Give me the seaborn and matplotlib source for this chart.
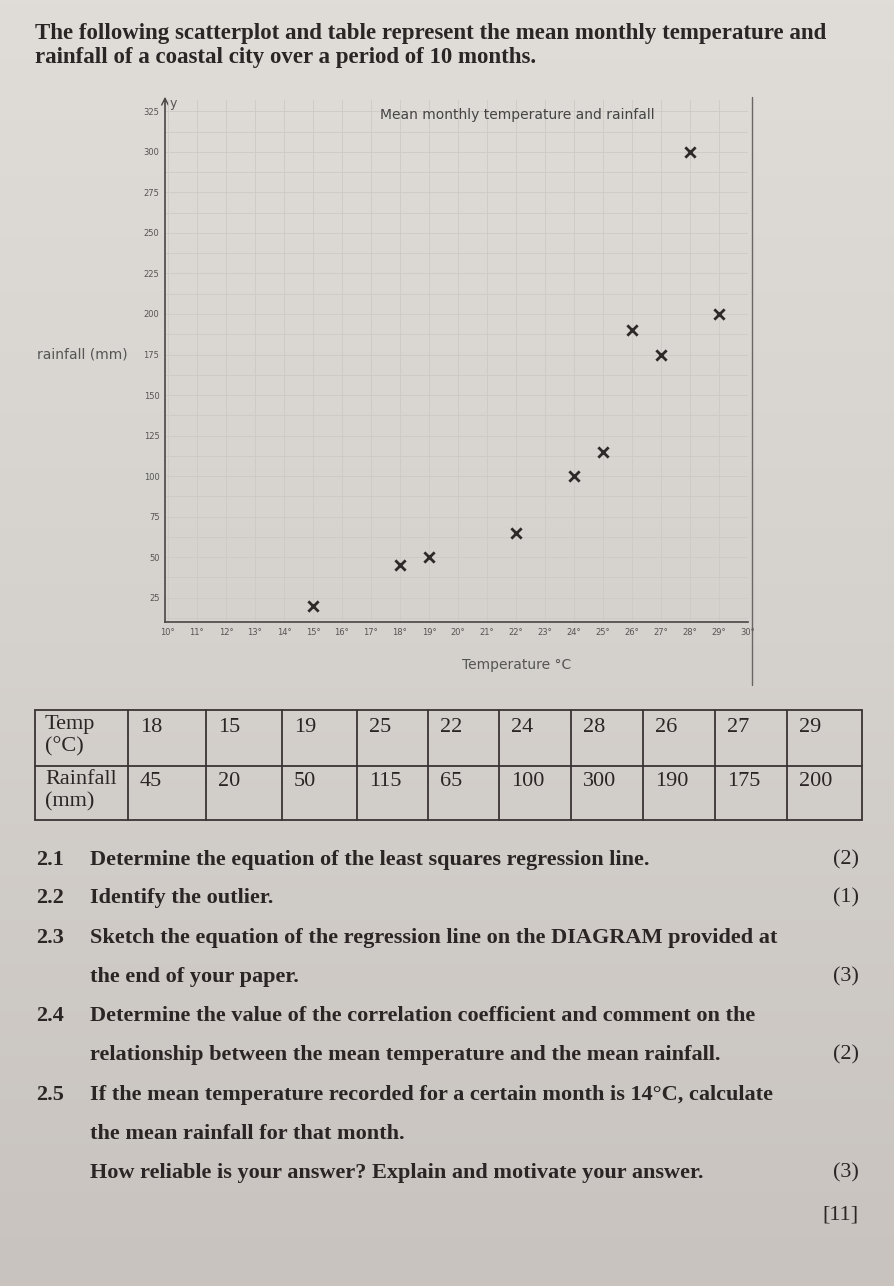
import numpy as np
import pandas as pd
import matplotlib
matplotlib.use("Agg")
import matplotlib.pyplot as plt
import seaborn as sns
from matplotlib.lines import Line2D

# ---- data ----
temps = [18, 15, 19, 25, 22, 24, 28, 26, 27, 29]
rainfall = [45, 20, 50, 115, 65, 100, 300, 190, 175, 200]
x_ticks = list(range(10, 31))
y_ticks = list(range(25, 326, 25))

intro = ["The following scatterplot and table represent the mean monthly temperature and",
         "rainfall of a coastal city over a period of 10 months."]
q_nums = ["2.1", "2.2", "2.3", "", "2.4", "", "2.5", "", "", ""]
q_text = ["Determine the equation of the least squares regression line.",
          "Identify the outlier.",
          "Sketch the equation of the regression line on the DIAGRAM provided at",
          "the end of your paper.",
          "Determine the value of the correlation coefficient and comment on the",
          "relationship between the mean temperature and the mean rainfall.",
          "If the mean temperature recorded for a certain month is 14\u00b0C, calculate",
          "the mean rainfall for that month.",
          "How reliable is your answer? Explain and motivate your answer.",
          ""]
q_marks = ["(2)", "(1)", "", "(3)", "", "(2)", "", "", "(3)", "[11]"]

df = pd.DataFrame({"temp": temps, "rain": rainfall})

sns.set_theme(style="white")
plt.rcParams['font.family'] = ['DejaVu Sans']

W, H = 895, 1286
fig = plt.figure(figsize=(W / 100, H / 100), dpi=100)

# background "paper" gradient
bg = fig.add_axes([0, 0, 1, 1], zorder=0)
grad = np.linspace(0, 1, 256).reshape(-1, 1)
cmap = matplotlib.colors.LinearSegmentedColormap.from_list("paper", ["#e0ddd9", "#d5d1cc", "#c8c3be"])
bg.imshow(grad, aspect="auto", cmap=cmap, extent=[0, W, H, 0])
bg.set_xlim(0, W)
bg.set_ylim(H, 0)
bg.axis("off")

serif = "Liberation Serif"
tcol = "#2b2626"

# intro text
for i, line in enumerate(intro):
    bg.text(35, 33 + i * 25, line, family=serif, fontsize=16.5, fontweight="bold",
            color=tcol, va="center", ha="left")

# ---- scatter chart ----
L, R, T, B = 165, 748, 100, 622
ax = fig.add_axes([L / W, 1 - B / H, (R - L) / W, (B - T) / H], zorder=2)
ax.set_facecolor("none")
sns.scatterplot(data=df, x="temp", y="rain", ax=ax, marker="x", s=55,
                color="#2f2a2a", linewidth=2.0, zorder=5)
ax.set_xlim(9.9, 30)
ax.set_ylim(10, 332)
ax.set_xticks(x_ticks)
ax.set_xticklabels([f"{t}\u00b0" for t in x_ticks], fontsize=6, color="#555")
ax.set_yticks(y_ticks)
ax.set_yticklabels([str(v) for v in y_ticks], fontsize=6, color="#555")
ax.set_xticks(np.arange(10, 30.01, 1), minor=True)
ax.set_yticks(np.arange(12.5, 332, 12.5), minor=True)
ax.grid(True, which="both", color="#cdc9c4", linewidth=0.6)
ax.tick_params(axis="both", which="both", length=0, pad=4)
for s in ["top", "right"]:
    ax.spines[s].set_visible(False)
for s in ["left", "bottom"]:
    ax.spines[s].set_color("#4a4646")
    ax.spines[s].set_linewidth(1.2)
ax.set_xlabel("")
ax.set_ylabel("")
ax.text(0.604, 0.985, "Mean monthly temperature and rainfall", transform=ax.transAxes,
        ha="center", va="top", fontsize=10, color="#444")

# axis labels / decorations in pixel coords
bg.text(128, 355, "rainfall (mm)", ha="right", va="center", fontsize=10, color="#555", zorder=3)
bg.text(517, 665, "Temperature \u00b0C", ha="center", va="center", fontsize=10, color="#555", zorder=3)
bg.text(170, 103, "y", ha="left", va="center", fontsize=9, color="#555", zorder=3)
bg.annotate("", xy=(L, 94), xytext=(L, 104),
            arrowprops=dict(arrowstyle="->", color="#4a4646", lw=1.0), zorder=3)
bg.add_line(Line2D([752, 752], [97, 685], color="#6a6666", lw=1.0, zorder=3))

# ---- table ----
cols = [35, 128, 206, 282, 357, 428, 499, 571, 643, 715, 787, 862]
rows = [710, 766, 820]
tc = "#3a3434"
for x in cols:
    bg.add_line(Line2D([x, x], [rows[0], rows[-1]], color=tc, lw=1.3, zorder=3))
for y in rows:
    bg.add_line(Line2D([cols[0], cols[-1]], [y, y], color=tc, lw=1.3, zorder=3))
fs_tab = 16
bg.text(45, 725, "Temp", family=serif, fontsize=fs_tab, color=tcol, va="center", zorder=4)
bg.text(45, 747, "(\u00b0C)", family=serif, fontsize=fs_tab, color=tcol, va="center", zorder=4)
bg.text(45, 780, "Rainfall", family=serif, fontsize=fs_tab, color=tcol, va="center", zorder=4)
bg.text(45, 802, "(mm)", family=serif, fontsize=fs_tab, color=tcol, va="center", zorder=4)
for i, (t, r) in enumerate(zip(temps, rainfall)):
    bg.text(cols[i + 1] + 12, 727, str(t), family=serif, fontsize=fs_tab, color=tcol, va="center", zorder=4)
    bg.text(cols[i + 1] + 12, 781, str(r), family=serif, fontsize=fs_tab, color=tcol, va="center", zorder=4)

# ---- questions ----
q_y = [860, 898, 938, 977, 1016, 1055, 1095, 1134, 1173, 1215]
fs_q = 16
for y, n, t, m in zip(q_y, q_nums, q_text, q_marks):
    if n:
        bg.text(36, y, n, family=serif, fontsize=fs_q, fontweight="bold", color=tcol, va="center", zorder=4)
    if t:
        bg.text(90, y, t, family=serif, fontsize=fs_q, fontweight="bold", color=tcol, va="center", zorder=4)
    if m:
        bg.text(859, y, m, family=serif, fontsize=fs_q, color=tcol, va="center", ha="right", zorder=4)

fig.savefig("out.png", dpi=100)
